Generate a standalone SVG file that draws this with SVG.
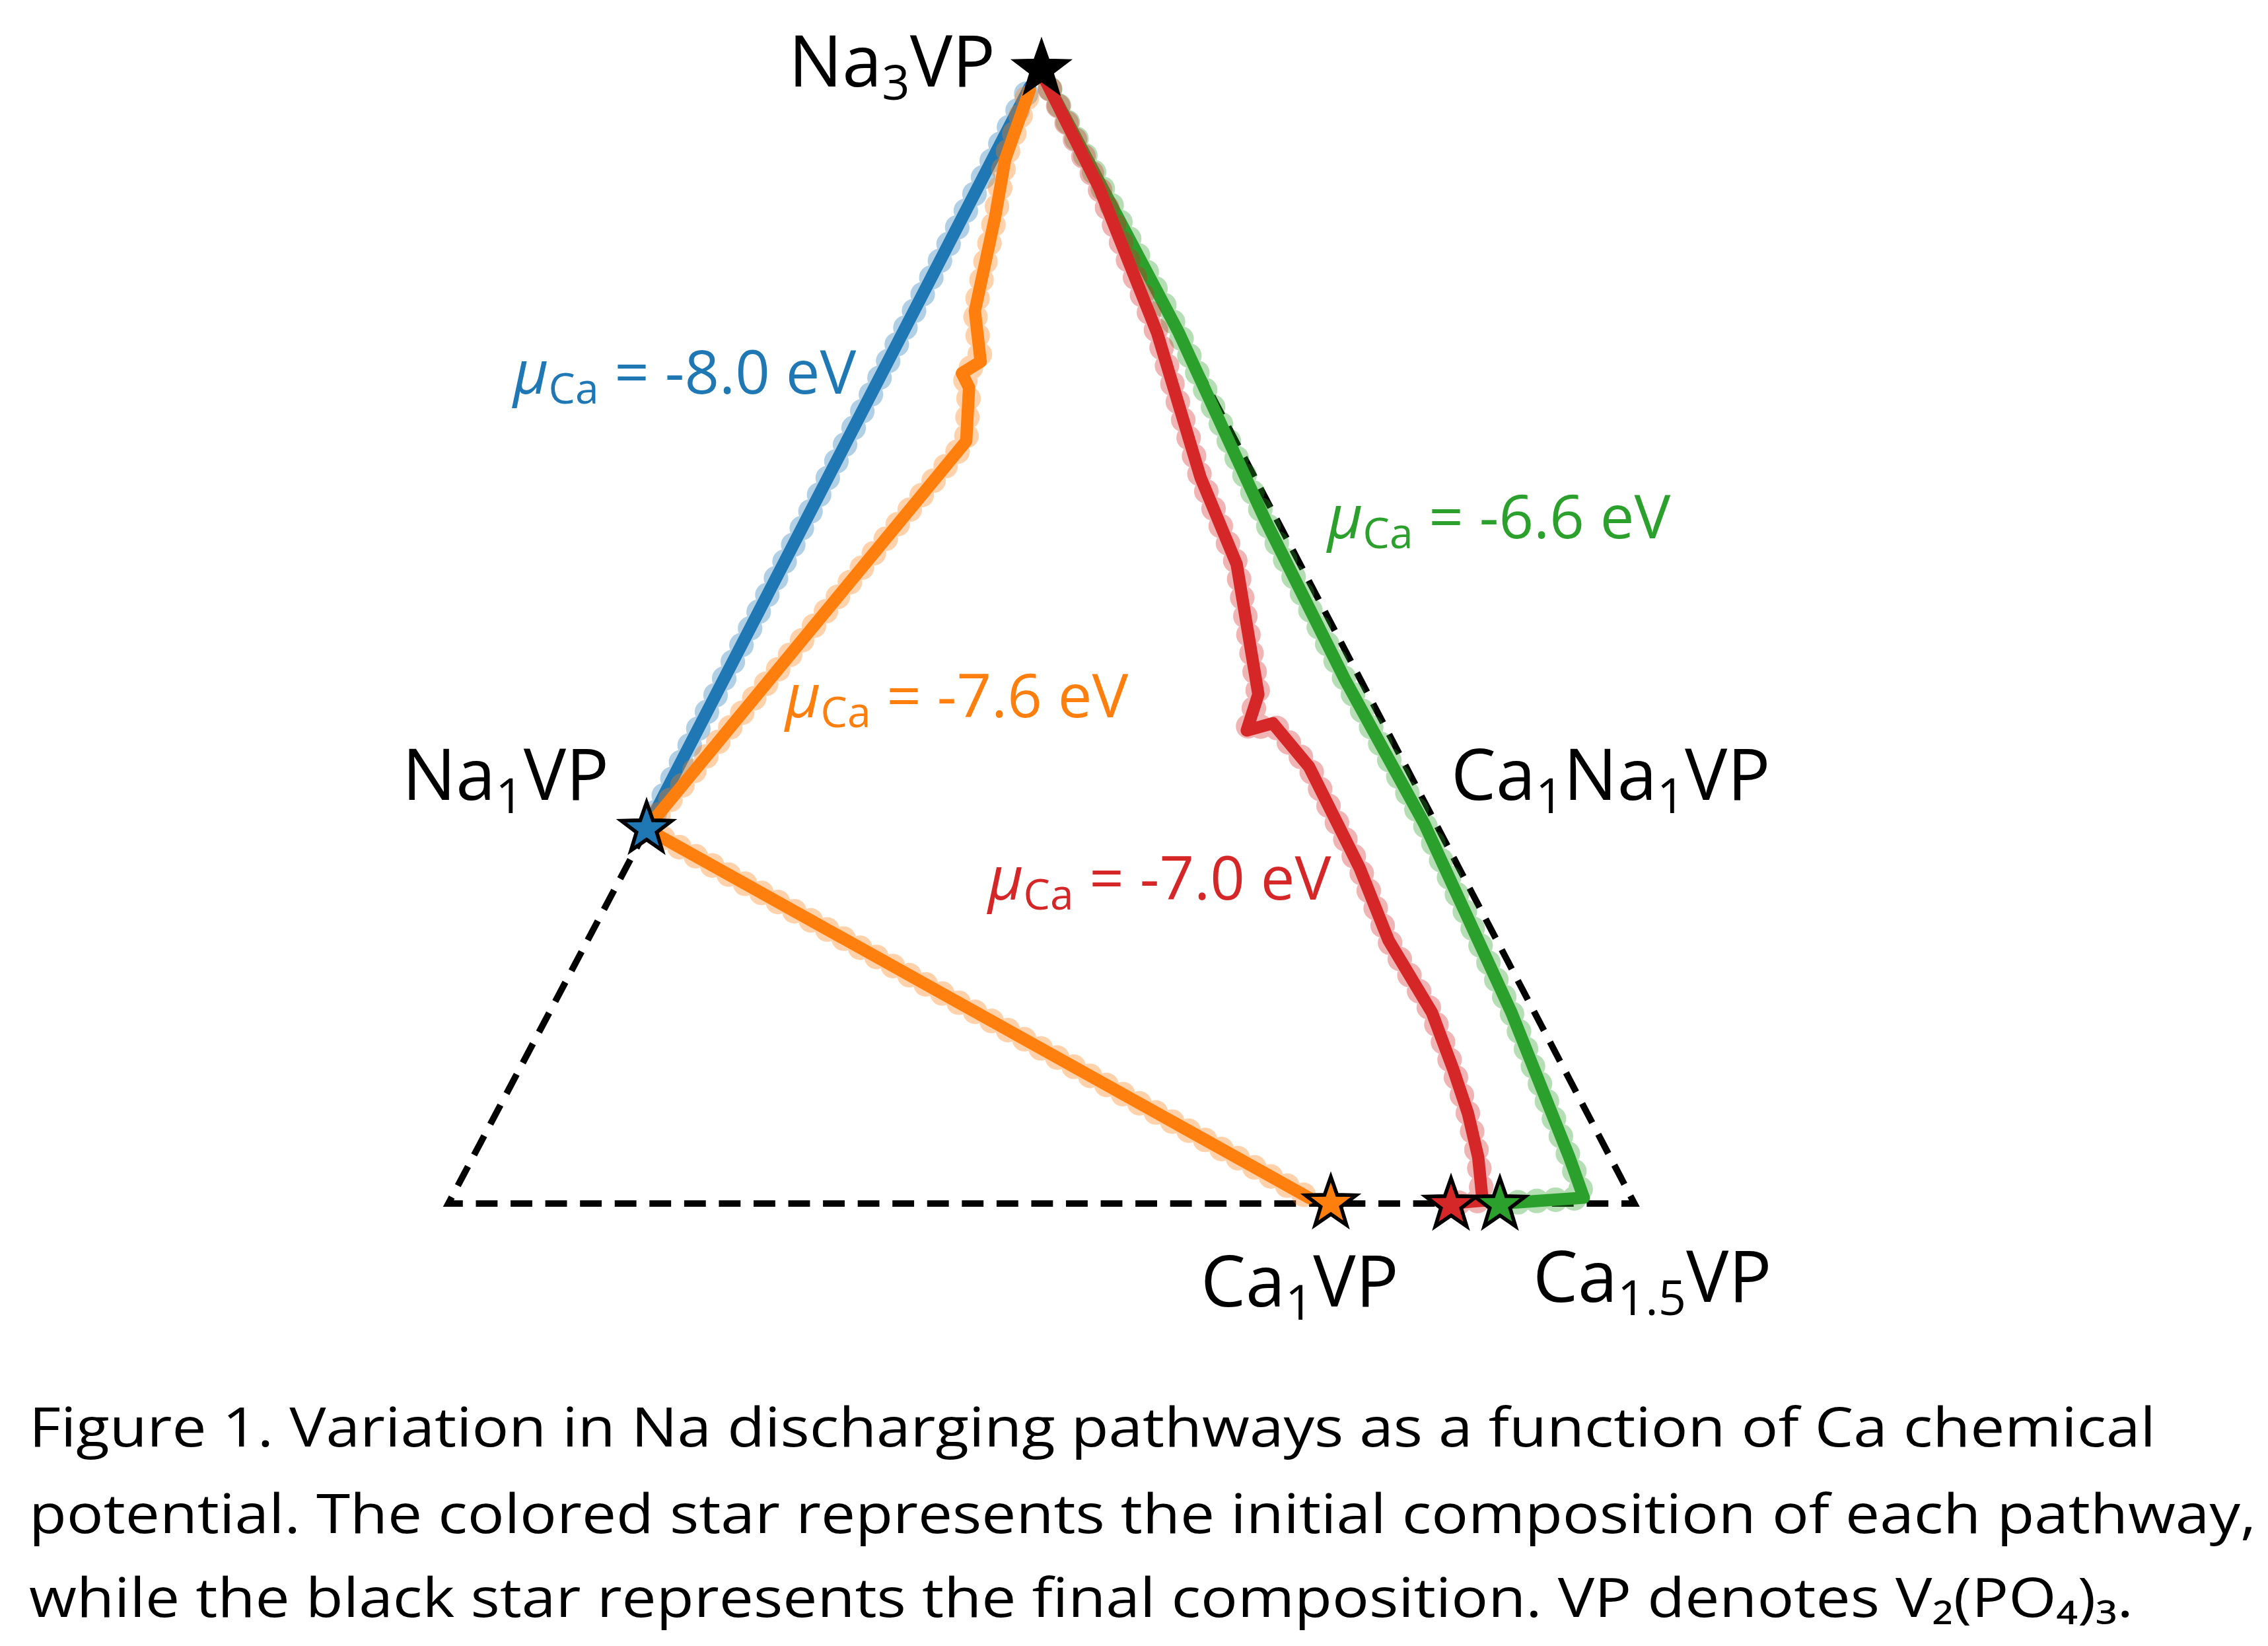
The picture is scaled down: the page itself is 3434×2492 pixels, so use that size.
<svg xmlns="http://www.w3.org/2000/svg" width="3434" height="2492" viewBox="0 0 3434 2492">
<style>
.lbl{font-family:"Open Sans","Noto Sans",sans-serif;font-size:108px;fill:#000}
.mu{font-family:"Open Sans","Noto Sans",sans-serif;font-size:92px}
.cap{font-family:"Open Sans","Noto Sans",sans-serif;font-size:82px;fill:#000}
.dash{fill:none;stroke:#000;stroke-width:4.5;stroke-dasharray:15 9}
.p{fill:none;stroke-width:8.5;stroke-linejoin:round;stroke-linecap:round}
.halo{fill:none;stroke-width:17;stroke-linecap:round;stroke-dasharray:0 13;opacity:0.35}
.star{stroke:#000;stroke-width:5;stroke-linejoin:miter}
</style>
<rect width="3434" height="2492" fill="#fff"/>
<g id="connectors" transform="scale(2.19)">
<path class="dash" d="M447,573 L310,832 L1130,832 L720,48"/>
<path class="halo" stroke="#1f77b4" d="M447,573 L712,60"/>
<path class="p" stroke="#1f77b4" d="M447,573 L712,60"/>
<path class="halo" stroke="#ff7f0e" d="M447,573 L668,305 L670,268 L665,258 L678,250 L674,215 L688,150 L695,110 L712,62 M447,573 L905,828"/>
<path class="p" stroke="#ff7f0e" d="M447,573 L668,305 L670,268 L665,258 L678,250 L674,215 L688,150 L695,110 L712,62 M447,573 L905,828"/>
<path class="halo" stroke="#2ca02c" d="M720,50 L815,230 L875,360 L930,470 L985,570 L1045,700 L1085,800 L1095,828 L1037,832"/>
<path class="p" stroke="#2ca02c" d="M720,50 L815,230 L875,360 L930,470 L985,570 L1045,700 L1085,800 L1095,828 L1037,832"/>
<path class="halo" stroke="#d62728" d="M720,50 L760,130 L800,230 L830,330 L855,390 L870,480 L862,505 L880,500 L905,530 L940,600 L960,650 L990,700 L1005,740 L1015,770 L1022,800 L1025,830 L1003,832"/>
<path class="p" stroke="#d62728" d="M720,50 L760,130 L800,230 L830,330 L855,390 L870,480 L862,505 L880,500 L905,530 L940,600 L960,650 L990,700 L1005,740 L1015,770 L1022,800 L1025,830 L1003,832"/>
</g>
<g id="stars">
<polygon class="star" fill="#000" points="1577,63 1586.9,91.3 1616.9,92.0 1593.0,110.2 1601.7,139.0 1577,121.8 1552.3,139.0 1561.0,110.2 1537.1,92.0 1567.1,91.3"/>
<polygon class="star" fill="#1f77b4" transform="translate(979,1255) scale(1.12) translate(-979,-1255)" points="979,1219 987.5,1243.3 1013.2,1243.9 992.7,1259.5 1000.2,1284.1 979,1269.4 957.8,1284.1 965.3,1259.5 944.8,1243.9 970.5,1243.3"/>
<polygon class="star" fill="#ff7f0e" transform="translate(2015,1822) scale(1.12) translate(-2015,-1822)" points="2015,1786 2023.5,1810.3 2049.2,1810.9 2028.7,1826.5 2036.2,1851.1 2015,1836.4 1993.8,1851.1 2001.3,1826.5 1980.8,1810.9 2006.5,1810.3"/>
<polygon class="star" fill="#d62728" transform="translate(2197,1824) scale(1.12) translate(-2197,-1824)" points="2197,1788 2205.5,1812.3 2231.2,1812.9 2210.7,1828.5 2218.2,1853.1 2197,1838.4 2175.8,1853.1 2183.3,1828.5 2162.8,1812.9 2188.5,1812.3"/>
<polygon class="star" fill="#2ca02c" transform="translate(2271,1824) scale(1.12) translate(-2271,-1824)" points="2271,1788 2279.5,1812.3 2305.2,1812.9 2284.7,1828.5 2292.2,1853.1 2271,1838.4 2249.8,1853.1 2257.3,1828.5 2236.8,1812.9 2262.5,1812.3"/>
</g>
<g id="n-na3vp"><text class="lbl" x="1194" y="131">Na<tspan font-size="74" dy="20">3</tspan><tspan dy="-20">VP</tspan></text></g>
<g id="n-na1vp"><text class="lbl" x="609" y="1211">Na<tspan font-size="74" dy="20">1</tspan><tspan dy="-20">VP</tspan></text></g>
<g id="n-ca1na1vp"><text class="lbl" x="2197" y="1211">Ca<tspan font-size="74" dy="20">1</tspan><tspan dy="-20">Na</tspan><tspan font-size="74" dy="20">1</tspan><tspan dy="-20">VP</tspan></text></g>
<g id="n-ca1vp"><text class="lbl" x="1818" y="1978">Ca<tspan font-size="74" dy="20">1</tspan><tspan dy="-20">VP</tspan></text></g>
<g id="n-ca15vp"><text class="lbl" x="2321" y="1971">Ca<tspan font-size="74" dy="20">1.5</tspan><tspan dy="-20">VP</tspan></text></g>
<g id="labels">
<text class="mu" fill="#1f77b4" x="777" y="596"><tspan font-style="italic">μ</tspan><tspan font-size="64" dy="15">Ca</tspan><tspan dy="-15"> = -8.0 eV</tspan></text>
<text class="mu" fill="#ff7f0e" x="1189" y="1086"><tspan font-style="italic">μ</tspan><tspan font-size="64" dy="15">Ca</tspan><tspan dy="-15"> = -7.6 eV</tspan></text>
<text class="mu" fill="#2ca02c" x="2010" y="815"><tspan font-style="italic">μ</tspan><tspan font-size="64" dy="15">Ca</tspan><tspan dy="-15"> = -6.6 eV</tspan></text>
<text class="mu" fill="#d62728" x="1496" y="1362"><tspan font-style="italic">μ</tspan><tspan font-size="64" dy="15">Ca</tspan><tspan dy="-15"> = -7.0 eV</tspan></text>
</g>
<g id="caption">
<text class="cap" x="44" y="2190" textLength="3220" lengthAdjust="spacingAndGlyphs">Figure 1. Variation in Na discharging pathways as a function of Ca chemical</text>
<text class="cap" x="44" y="2321" textLength="3372" lengthAdjust="spacingAndGlyphs">potential. The colored star represents the initial composition of each pathway,</text>
<text class="cap" x="44" y="2448" textLength="3186" lengthAdjust="spacingAndGlyphs">while the black star represents the final composition. VP denotes V₂(PO₄)₃.</text>
</g>
</svg>
